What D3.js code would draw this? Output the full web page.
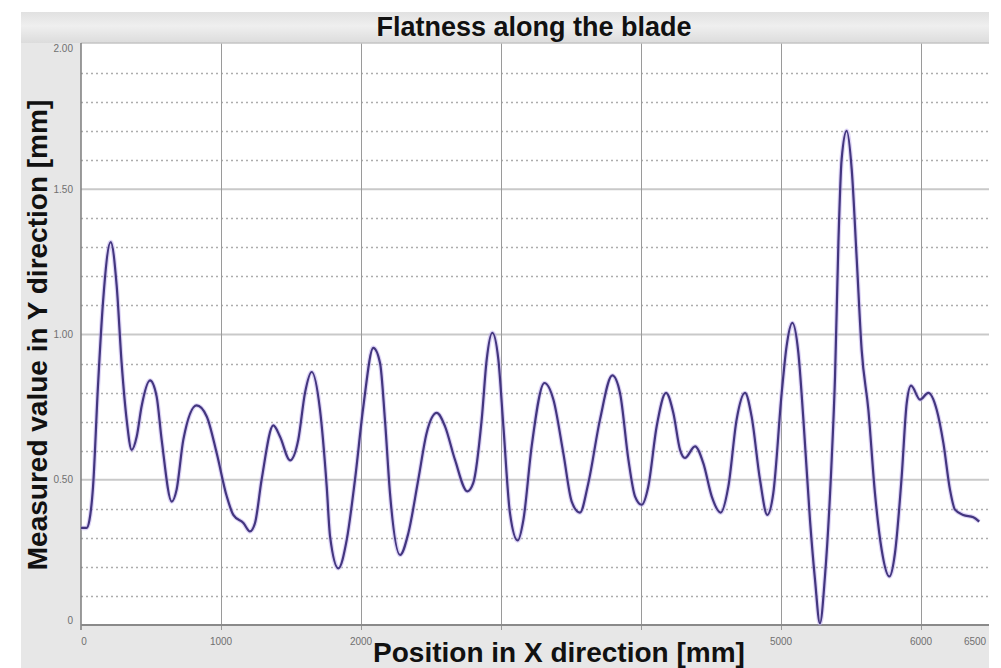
<!DOCTYPE html>
<html>
<head>
<meta charset="utf-8">
<script src="https://cdn.jsdelivr.net/npm/d3@7"></script>
<style>
  body { margin: 0; background: #fff; }
  text { font-family: "Liberation Sans", Arial, sans-serif; }
</style>
</head>
<body>
<div id="chart"></div>
<script>
// measured flatness, position in mm / value in mm
var posMm = [0, 40, 60, 86, 121, 157, 212, 255, 290, 326, 362, 398, 433, 493, 540, 576, 648, 683, 731, 826,
  898, 969, 1041, 1088, 1160, 1207, 1243, 1290, 1374, 1421, 1493, 1552, 1600, 1648, 1707, 1755, 1779, 1838, 1898, 1957,
  2017, 2088, 2136, 2171, 2207, 2279, 2338, 2409, 2469, 2541, 2600, 2671, 2760, 2802, 2862, 2898, 2938, 2981, 3017, 3064,
  3119, 3160, 3219, 3310, 3374, 3445, 3505, 3564, 3624, 3707, 3795, 3850, 3910, 3957, 4005, 4052, 4112, 4179, 4231, 4279,
  4314, 4386, 4445, 4505, 4569, 4624, 4683, 4743, 4790, 4850, 4902, 4945, 5005, 5040, 5081, 5124, 5160, 5207, 5243, 5278,
  5314, 5362, 5386, 5410, 5433, 5469, 5505, 5541, 5576, 5624, 5671, 5719, 5774, 5814, 5862, 5898, 5929, 5993, 6052, 6112,
  6160, 6207, 6243, 6302, 6374, 6416];
var valueMm = [0.334, 0.334, 0.36, 0.476, 0.82, 1.11, 1.318, 1.167, 0.903, 0.707, 0.603, 0.649, 0.753, 0.842, 0.787, 0.638, 0.425, 0.466, 0.638, 0.756,
  0.718, 0.592, 0.443, 0.379, 0.351, 0.322, 0.351, 0.5, 0.687, 0.649, 0.567, 0.638, 0.799, 0.871, 0.741, 0.477, 0.305, 0.195, 0.293, 0.5,
  0.753, 0.954, 0.902, 0.707, 0.454, 0.241, 0.316, 0.5, 0.661, 0.73, 0.684, 0.569, 0.46, 0.489, 0.707, 0.914, 1.006, 0.914, 0.684, 0.385,
  0.291, 0.362, 0.615, 0.833, 0.776, 0.592, 0.425, 0.387, 0.489, 0.707, 0.859, 0.799, 0.569, 0.443, 0.414, 0.477, 0.684, 0.799, 0.73, 0.603,
  0.575, 0.615, 0.557, 0.443, 0.387, 0.477, 0.707, 0.799, 0.718, 0.5, 0.379, 0.454, 0.799, 0.96, 1.04, 0.937, 0.707, 0.362, 0.155, 0.006,
  0.167, 0.569, 0.856, 1.316, 1.603, 1.701, 1.569, 1.259, 0.948, 0.741, 0.454, 0.259, 0.167, 0.247, 0.511, 0.764, 0.824, 0.776, 0.799, 0.741,
  0.626, 0.466, 0.397, 0.379, 0.371, 0.356];

var xGridTicks = [1000, 2000, 3000, 4000, 5000, 6000];
// 3000 and 4000 sit under the axis title in the original, so they are not printed
var xTickLabels = [0, 1000, 2000, 5000, 6000, 6500];
var yMajorTicks = [0.5, 1.0, 1.5];
var yMinorTicks = [0.1, 0.2, 0.3, 0.4, 0.6, 0.7, 0.8, 0.9, 1.1, 1.2, 1.3, 1.4, 1.6, 1.7, 1.8, 1.9];
var yTickLabels = [0, 0.5, 1.0, 1.5, 2.0];

var W = 1001, H = 668;
var plot = {left: 81, right: 989, top: 43, bottom: 625};

var svg = d3.select("#chart").append("svg")
    .attr("width", W)
    .attr("height", H);

var x = d3.scaleLinear().domain([0, 6500]).range([plot.left, plot.right + 2]);
var y = d3.scaleLinear().domain([0, 2]).range([plot.bottom, plot.top + 1]);

// grey panel + title band
var defs = svg.append("defs");
var grad = defs.append("linearGradient").attr("id", "band")
    .attr("x1", 0).attr("y1", 0).attr("x2", 0).attr("y2", 1);
grad.append("stop").attr("offset", "0%").attr("stop-color", "#e1e1e1");
grad.append("stop").attr("offset", "45%").attr("stop-color", "#efefef");
grad.append("stop").attr("offset", "100%").attr("stop-color", "#dcdcdc");

svg.append("rect")
    .attr("x", 21).attr("y", 12)
    .attr("width", plot.right - 21).attr("height", H - 12)
    .style("fill", "#e7e7e7");
svg.append("rect")
    .attr("x", 21).attr("y", 12)
    .attr("width", plot.right - 21).attr("height", plot.top - 12)
    .style("fill", "url(#band)");

svg.append("rect")
    .attr("x", plot.left).attr("y", plot.top)
    .attr("width", plot.right - plot.left).attr("height", plot.bottom - plot.top)
    .style("fill", "#fff");

var g = svg.append("g");

// dotted minor grid
g.selectAll(".minor").data(yMinorTicks).enter().append("line")
    .attr("class", "minor")
    .attr("x1", plot.left).attr("x2", plot.right)
    .attr("y1", function(d){ return Math.round(y(d)) + 0.5; })
    .attr("y2", function(d){ return Math.round(y(d)) + 0.5; })
    .style("stroke", "#adadad")
    .style("stroke-width", 1.3)
    .style("stroke-dasharray", "2,3");

// solid major grid
g.selectAll(".major").data(yMajorTicks).enter().append("line")
    .attr("class", "major")
    .attr("x1", plot.left).attr("x2", plot.right)
    .attr("y1", function(d){ return y(d); })
    .attr("y2", function(d){ return y(d); })
    .style("stroke", "#c9c9c9")
    .style("stroke-width", 2.2);

// vertical grid
g.selectAll(".vgrid").data(xGridTicks).enter().append("line")
    .attr("class", "vgrid")
    .attr("x1", function(d){ return Math.round(x(d)) + 0.5; })
    .attr("x2", function(d){ return Math.round(x(d)) + 0.5; })
    .attr("y1", plot.top).attr("y2", plot.bottom + 5)
    .style("stroke", "#9a9a9a")
    .style("stroke-width", 1);

// frame: top, left and bottom
g.append("line").attr("x1", plot.left).attr("x2", plot.right)
    .attr("y1", plot.top).attr("y2", plot.top)
    .style("stroke", "#c4c4c4").style("stroke-width", 1.5);
g.append("line").attr("x1", plot.left).attr("x2", plot.left)
    .attr("y1", plot.top).attr("y2", plot.bottom + 5)
    .style("stroke", "#7d7d7d").style("stroke-width", 1.5);
g.append("line").attr("x1", plot.left).attr("x2", plot.right)
    .attr("y1", plot.bottom).attr("y2", plot.bottom)
    .style("stroke", "#8a8a8a").style("stroke-width", 2);

// the curve
var pts = posMm.map(function(d, i){ return [d, valueMm[i]]; });
var line = d3.line()
    .x(function(d){ return x(d[0]); })
    .y(function(d){ return y(d[1]); })
    .curve(d3.curveMonotoneX);

g.append("path").datum(pts)
    .attr("d", line)
    .style("fill", "none")
    .style("stroke", "#bba9ee")
    .style("stroke-opacity", 0.5)
    .style("stroke-width", 4.5);
g.append("path").datum(pts)
    .attr("d", line)
    .style("fill", "none")
    .style("stroke", "#43367f")
    .style("stroke-width", 2.2);

// tick labels
var fmtY = function(d){ return d === 0 ? "0" : d3.format(".2f")(d); };
svg.selectAll(".ylab").data(yTickLabels).enter().append("text")
    .attr("class", "ylab")
    .attr("x", plot.left - 8)
    .attr("y", function(d){ return y(d); })
    .attr("dy", function(d){ return d === 0 ? "-0.1em" : (d === 2 ? "0.75em" : "0.35em"); })
    .style("text-anchor", "end")
    .style("font-size", 10)
    .style("fill", "#707070")
    .text(fmtY);

svg.selectAll(".xlab").data(xTickLabels).enter().append("text")
    .attr("class", "xlab")
    .attr("x", function(d){ return d === 6500 ? x(d) - 16 : x(d) + (d === 0 ? 3 : 0); })
    .attr("y", plot.bottom + 20)
    .style("text-anchor", "middle")
    .style("font-size", 10)
    .style("fill", "#707070")
    .text(function(d){ return d; });

// axis titles
svg.append("text")
    .attr("x", 559).attr("y", 662)
    .style("text-anchor", "middle")
    .style("font-size", 28)
    .style("font-weight", "bold")
    .style("fill", "#111")
    .text("Position in X direction [mm]");

svg.append("text")
    .attr("transform", "translate(47,335) rotate(-90)")
    .style("text-anchor", "middle")
    .style("font-size", 28)
    .style("font-weight", "bold")
    .style("fill", "#111")
    .text("Measured value in Y direction [mm]");

svg.append("text")
    .attr("x", 534).attr("y", 36)
    .style("text-anchor", "middle")
    .style("font-size", 27)
    .style("font-weight", "bold")
    .style("fill", "#111")
    .text("Flatness along the blade");
</script>
</body>
</html>
